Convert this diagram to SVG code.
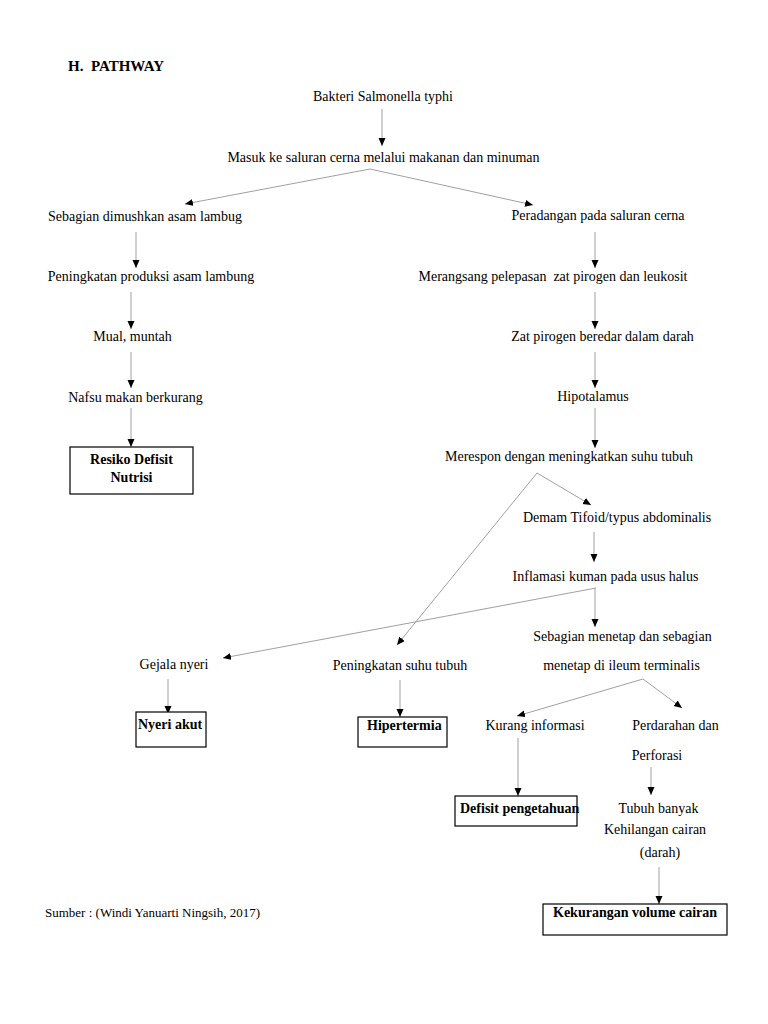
<svg xmlns="http://www.w3.org/2000/svg" width="768" height="1024" viewBox="0 0 768 1024">
<style>
text{font-family:"Liberation Serif","Times New Roman",serif;font-size:14px;fill:#000;white-space:pre}
.c{text-anchor:middle}
.b{font-weight:bold}
.t{font-size:15px}
.s{font-size:13px}
.box{fill:#fff;stroke:#000;stroke-width:1.2}
.ln{stroke:#a0a0a0;stroke-width:1;fill:none;marker-end:url(#ah)}
</style>
<defs>
<marker id="ah" markerUnits="userSpaceOnUse" markerWidth="9" markerHeight="8" refX="8" refY="3.5" orient="auto">
<path d="M0,0 L8,3.5 L0,7 z" fill="#000"/>
</marker>
</defs>
<rect width="768" height="1024" fill="#fff"/>
<text id="title" class="b t" x="68" y="71">H.  PATHWAY</text>

<g id="connectors">
<line class="ln" x1="382" y1="109" x2="382" y2="146"/>
<line class="ln" x1="370" y1="169" x2="185" y2="204"/>
<line class="ln" x1="370" y1="169" x2="533" y2="205"/>
<line class="ln" x1="136" y1="232" x2="136" y2="268"/>
<line class="ln" x1="131" y1="292" x2="131" y2="329"/>
<line class="ln" x1="131" y1="352" x2="131" y2="388"/>
<line class="ln" x1="131" y1="408" x2="131" y2="447"/>
<line class="ln" x1="595" y1="232" x2="595" y2="268"/>
<line class="ln" x1="595" y1="292" x2="595" y2="329"/>
<line class="ln" x1="595" y1="352" x2="595" y2="388"/>
<line class="ln" x1="595" y1="408" x2="595" y2="448"/>
<line class="ln" x1="537" y1="473" x2="591" y2="505"/>
<line class="ln" x1="537" y1="473" x2="397" y2="645"/>
<line class="ln" x1="594" y1="532" x2="594" y2="562"/>
<line class="ln" x1="596" y1="588" x2="223" y2="658"/>
<line class="ln" x1="595" y1="588" x2="595" y2="627"/>
<line class="ln" x1="168" y1="679" x2="168" y2="714"/>
<line class="ln" x1="400" y1="680" x2="400" y2="717"/>
<line class="ln" x1="643" y1="679" x2="517" y2="716"/>
<line class="ln" x1="643" y1="679" x2="682" y2="708"/>
<line class="ln" x1="518" y1="738" x2="518" y2="796"/>
<line class="ln" x1="651" y1="767" x2="651" y2="795"/>
<line class="ln" x1="659" y1="867" x2="659" y2="904"/>
</g>

<g id="n1"><text class="c" x="383" y="101">Bakteri Salmonella typhi</text></g>
<g id="n2"><text class="c" x="383.5" y="162">Masuk ke saluran cerna melalui makanan dan minuman</text></g>
<g id="n3"><text class="c" x="145" y="221">Sebagian dimushkan asam lambug</text></g>
<g id="n4"><text class="c" x="598" y="220">Peradangan pada saluran cerna</text></g>
<g id="n5"><text class="c" x="151" y="281">Peningkatan produksi asam lambung</text></g>
<g id="n6"><text class="c" x="553" y="281">Merangsang pelepasan  zat pirogen dan leukosit</text></g>
<g id="n7"><text class="c" x="132.5" y="341">Mual, muntah</text></g>
<g id="n8"><text class="c" x="602.5" y="341">Zat pirogen beredar dalam darah</text></g>
<g id="n9"><text class="c" x="135.5" y="402">Nafsu makan berkurang</text></g>
<g id="n10"><text class="c" x="593" y="401">Hipotalamus</text></g>
<g id="n11">
<rect class="box" x="70" y="447" width="123" height="47"/>
<text class="c b" x="131.5" y="464">Resiko Defisit</text>
<text class="c b" x="131.5" y="482">Nutrisi</text>
</g>
<g id="n12"><text class="c" x="569" y="461">Merespon dengan meningkatkan suhu tubuh</text></g>
<g id="n13"><text class="c" x="617" y="522">Demam Tifoid/typus abdominalis</text></g>
<g id="n14"><text class="c" x="605.5" y="581">Inflamasi kuman pada usus halus</text></g>
<g id="n15">
<text class="c" x="622.5" y="641">Sebagian menetap dan sebagian</text>
<text class="c" x="621.5" y="670">menetap di ileum terminalis</text>
</g>
<g id="n16"><text class="c" x="174" y="669">Gejala nyeri</text></g>
<g id="n17"><text class="c" x="400" y="670">Peningkatan suhu tubuh</text></g>
<g id="n18">
<rect class="box" x="136" y="712" width="70" height="35"/>
<text class="b" x="138" y="729">Nyeri akut</text>
</g>
<g id="n19">
<rect class="box" x="358" y="717" width="89" height="30"/>
<text class="b" x="367" y="730">Hipertermia</text>
</g>
<g id="n20"><text class="c" x="535" y="730">Kurang informasi</text></g>
<g id="n21">
<text class="c" x="675.5" y="730">Perdarahan dan</text>
<text class="c" x="657" y="760">Perforasi</text>
</g>
<g id="n22">
<rect class="box" x="455" y="796" width="122" height="30"/>
<text class="b" x="460" y="813">Defisit pengetahuan</text>
</g>
<g id="n23">
<text class="c" x="658.5" y="813">Tubuh banyak</text>
<text class="c" x="655" y="834">Kehilangan cairan</text>
<text class="c" x="660" y="857">(darah)</text>
</g>
<g id="n24">
<rect class="box" x="543" y="904" width="184" height="31"/>
<text class="b" x="553" y="917">Kekurangan volume cairan</text>
</g>
<text id="source" class="s" x="45" y="917">Sumber : (Windi Yanuarti Ningsih, 2017)</text>
</svg>
